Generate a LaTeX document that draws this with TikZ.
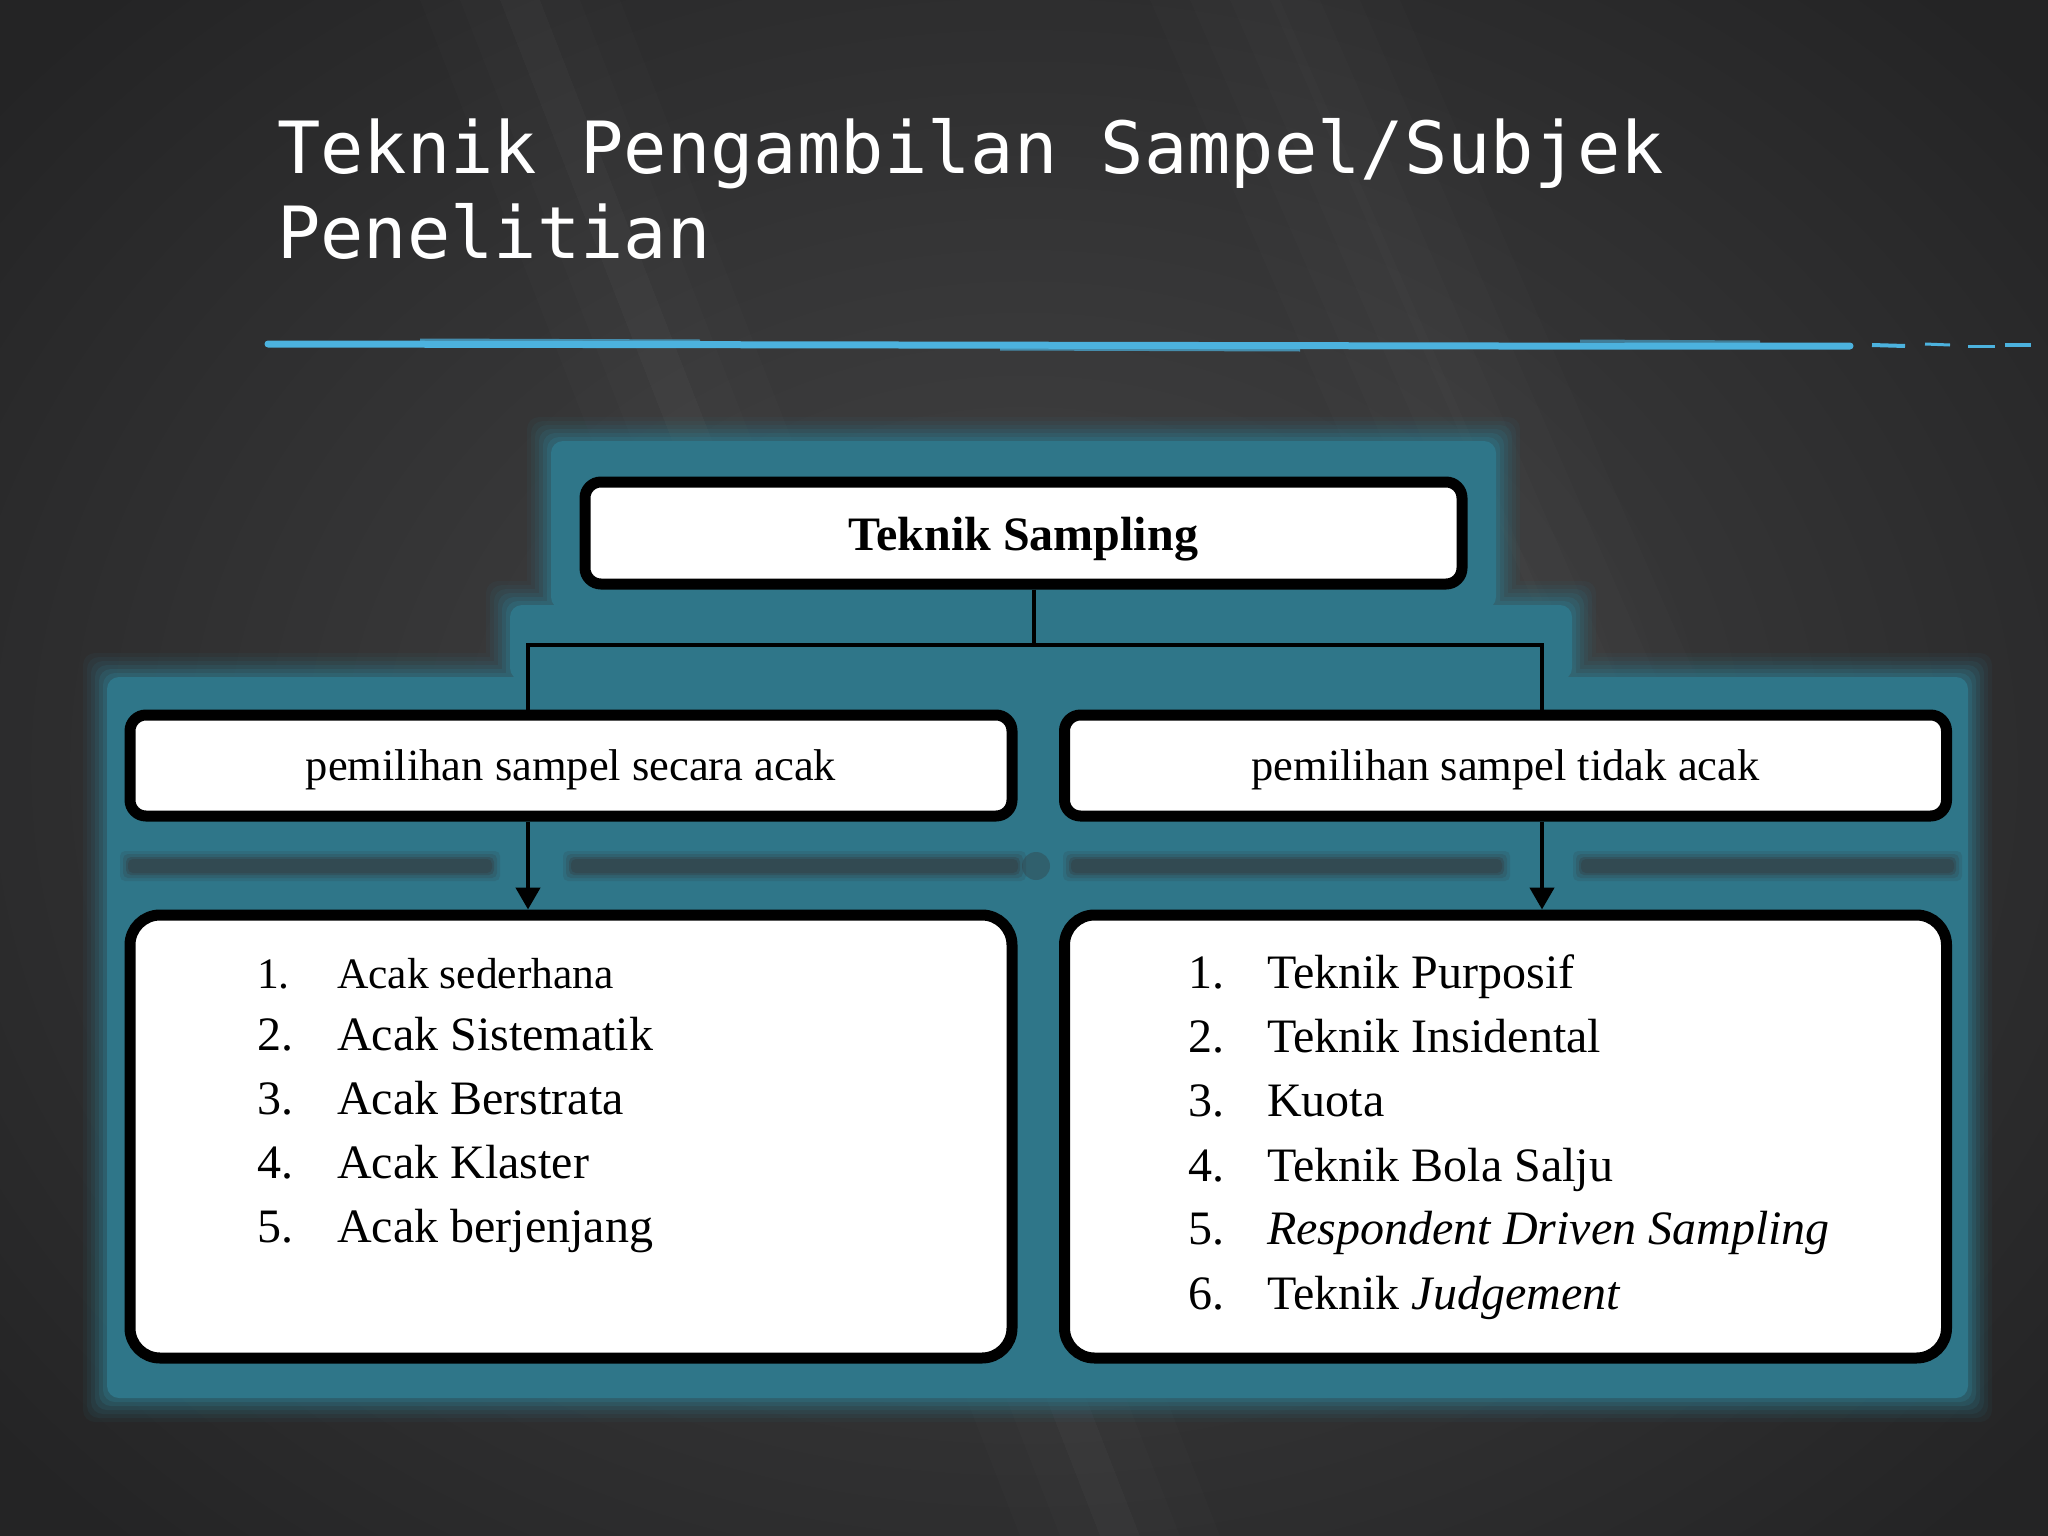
\documentclass[tikz,border=0pt]{standalone}
\usepackage{fontspec}
\newfontfamily\tnr{Liberation Serif}
\newfontfamily\dmono{DejaVu Sans Mono}
\usetikzlibrary{arrows.meta,calc}
\definecolor{bgdark}{RGB}{36,36,37}
\definecolor{bglight}{RGB}{70,70,71}
\definecolor{glowteal}{RGB}{47,118,137}
\definecolor{chalkblue}{RGB}{76,178,222}
\definecolor{bandgrey}{RGB}{52,56,59}
\newcommand\glowunion[1]{(551-#1,441-#1) rectangle (1496+#1,609+#1)
  (510-#1,605-#1) rectangle (1572+#1,680+#1)
  (107-#1,677-#1) rectangle (1968+#1,1398+#1)}
\tikzset{
  box/.style={draw=black, fill=white, line width=11pt, rounded corners=16pt, inner sep=0pt},
  topbox/.style={box, minimum width=877pt, minimum height=102pt,
    font=\tnr\bfseries\fontsize{48}{56}\selectfont, text height=34pt, text depth=0pt},
  midbox/.style={box, minimum width=882pt, minimum height=101pt,
    font=\tnr\fontsize{44.5}{52}\selectfont, text height=29pt, text depth=0pt},
  listbox/.style={box, rounded corners=30pt, minimum width=882pt, minimum height=443pt},
  link/.style={draw=black, line width=4.5pt},
  arrowlink/.style={link, -{Triangle[width=24pt,length=22pt]}},
  item/.style={anchor=base west, inner sep=0pt, font=\tnr\fontsize{48}{56}\selectfont},
  titletext/.style={anchor=base west, inner sep=0pt, text=white,
    font=\dmono\fontsize{72}{85}\selectfont},
}
\begin{document}
\begin{tikzpicture}[x=1pt,y=-1pt]
\useasboundingbox (0,0) rectangle (2048,1536);
% background
\shade[inner color=bglight, outer color=bgdark] (-300,-300) rectangle (2348,1836);
\foreach \d in {0,40,80,120}{
  \fill[white, opacity=0.012] (420+\d,0) -- (620-\d,0) -- (1220-\d,1536) -- (1020+\d,1536) -- cycle;
  \fill[white, opacity=0.01] (1150+\d,0) -- (1400-\d,0) -- (1750-\d,800) -- (1500+\d,800) -- cycle;
}
% chalk line under title
\draw[chalkblue, line width=7pt, line cap=round] (268,344) -- (900,345) -- (1500,346) -- (1850,346);
\draw[chalkblue, line width=3pt, opacity=0.7] (420,340) -- (700,341);
\draw[chalkblue, line width=3pt, opacity=0.7] (1000,349) -- (1300,350);
\draw[chalkblue, line width=3pt, opacity=0.6] (1580,341) -- (1760,342);
\draw[chalkblue, line width=4pt] (1872,345) -- (1905,346);
\draw[chalkblue, line width=3pt] (1925,344) -- (1950,345);
\draw[chalkblue, line width=3pt] (1968,346) -- (1995,346);
\draw[chalkblue, line width=4pt] (2005,345) -- (2031,345);
% title
\node[titletext] (title1) at (277,173) {Teknik Pengambilan Sampel/Subjek};
\node[titletext] (title2) at (277,258) {Penelitian};
% glow
\foreach \d/\o in {24/0.08, 20/0.1, 16/0.13, 12/0.18, 8/0.25, 4/0.35, 0/1}{
  \fill[glowteal, opacity=\o, rounded corners=12pt] \glowunion{\d};
}
% dark bands behind the gap
\foreach \d/\o in {8/0.15, 5/0.2, 2/0.3, 0/0.35}{
  \fill[bandgrey, opacity=\o, rounded corners=5pt]
    (128-\d,859-\d) rectangle (492+\d,873+\d)
    (571-\d,859-\d) rectangle (1018+\d,873+\d)
    (1071-\d,859-\d) rectangle (1502+\d,873+\d)
    (1581-\d,859-\d) rectangle (1954+\d,873+\d);
}
\fill[bandgrey, opacity=0.35] (1036,866) circle (14);
% boxes
\node[topbox] (top) at (1023.5,533) {Teknik Sampling};
\node[midbox] (ml) at (571,765.5) {pemilihan sampel secara acak};
\node[midbox] (mr) at (1505.5,765.5) {pemilihan sampel tidak acak};
\node[listbox] (bl) at (571,1136.5) {};
\node[listbox] (br) at (1505.5,1136.5) {};
% connectors
\coordinate (jc) at (1034,645);
\coordinate (jl) at (528,645);
\coordinate (jr) at (1542,645);
\draw[link] (top.south -| jc) -- (jc);
\draw[link, line cap=rect] (jl |- ml.north) -- (jl) -- (jr) -- (jr |- mr.north);
\draw[arrowlink] (jl |- ml.south) -- (jl |- bl.north);
\draw[arrowlink] (jr |- mr.south) -- (jr |- br.north);
% list items
\node[item, font=\tnr\fontsize{43.5}{50}\selectfont] (l1) at (257,988) {\makebox[80pt][l]{1.}Acak sederhana};
\node[item] (l2) at (257,1050) {\makebox[80pt][l]{2.}Acak Sistematik};
\node[item] (l3) at (257,1114) {\makebox[80pt][l]{3.}Acak Berstrata};
\node[item] (l4) at (257,1178) {\makebox[80pt][l]{4.}Acak Klaster};
\node[item] (l5) at (257,1242) {\makebox[80pt][l]{5.}Acak berjenjang};
\node[item] (r1) at (1188,988) {\makebox[79pt][l]{1.}Teknik Purposif};
\node[item] (r2) at (1188,1052) {\makebox[79pt][l]{2.}Teknik Insidental};
\node[item] (r3) at (1188,1116) {\makebox[79pt][l]{3.}Kuota};
\node[item] (r4) at (1188,1181) {\makebox[79pt][l]{4.}Teknik Bola Salju};
\node[item] (r5) at (1188,1244) {\makebox[79pt][l]{5.}\textit{Respondent Driven Sampling}};
\node[item] (r6) at (1188,1309) {\makebox[79pt][l]{6.}Teknik \textit{Judgement}};
\end{tikzpicture}
\end{document}
